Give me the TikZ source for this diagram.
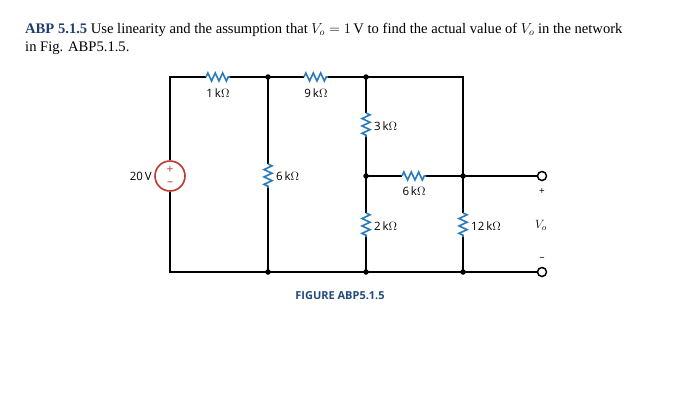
\documentclass[tikz,border=0pt]{standalone}
\usepackage{fontspec}
\setmainfont{Liberation Serif}
\newfontfamily\lab{Open Sans}
\usetikzlibrary{decorations.pathmorphing}
\definecolor{resb}{HTML}{2B7BB9}
\definecolor{srcr}{HTML}{C0392B}
\definecolor{ttl}{HTML}{1F3F6E}
\tikzset{
 wire/.style={line width=2.6pt,black},
 res/.style={resb,line width=1.6pt,decorate,decoration={zigzag,amplitude=4pt,segment length=7.4pt}},
 lbl/.style={font=\lab\fontsize{11.5}{13}\selectfont,inner sep=1pt},
 dot/.style={circle,fill=black,inner sep=0pt,minimum size=5.5pt},
 term/.style={circle,draw=black,fill=white,line width=1.5pt,inner sep=0pt,minimum size=9pt}
}
\begin{document}
\begin{tikzpicture}[x=1pt,y=-1pt]
\useasboundingbox (0,0) rectangle (700,405);
\node[anchor=west,inner sep=0pt,font=\fontsize{14.6}{16}\selectfont] (t1) at (25,30) {\textcolor{ttl}{\textbf{ABP 5.1.5}} Use linearity and the assumption that $V_o = 1$\,V to find the actual value of $V_o$ in the network};
\node[anchor=west,inner sep=0pt,font=\fontsize{14.6}{16}\selectfont] (t2) at (25,48) {in Fig. ABP5.1.5.};
\coordinate (TL) at (170,77); \coordinate (BL) at (170,272);
\coordinate (T1) at (268,77); \coordinate (B1) at (268,272);
\coordinate (T2) at (366,77); \coordinate (M2) at (366,176); \coordinate (B2) at (366,272);
\coordinate (T3) at (463,77); \coordinate (M3) at (463,176); \coordinate (B3) at (463,272);
\node[term] (op) at (542,176) {}; \node[term] (om) at (542,272) {};
\node[circle,draw=srcr,line width=1.6pt,minimum size=30pt,inner sep=0pt] (src) at (170,176) {};
\node[srcr,font=\lab\fontsize{12}{12}\selectfont,inner sep=0pt] (sp) at (170,169.5) {+};
\node[srcr,font=\lab\fontsize{12}{12}\selectfont,inner sep=0pt] (sm) at (170,184) {–};
\coordinate (r1a) at (206,77); \coordinate (r1b) at (230,77);
\coordinate (r9a) at (304,77); \coordinate (r9b) at (328,77);
\coordinate (r3a) at (366,113); \coordinate (r3b) at (366,137);
\coordinate (r6a) at (268,164); \coordinate (r6b) at (268,188);
\coordinate (r6ha) at (402,176); \coordinate (r6hb) at (426,176);
\coordinate (r2a) at (366,213); \coordinate (r2b) at (366,237);
\coordinate (r12a) at (463,213); \coordinate (r12b) at (463,237);
\draw[wire] (src.south) -- (BL) -- (B1) -- (B2) -- (B3) -- (om);
\draw[wire] (src.north) -- (TL) -- (r1a); \draw[wire] (r1b) -- (T1) -- (r9a);
\draw[wire] (r9b) -- (T2) -- (T3) -- (r12a);
\draw[wire] (r12b) -- (B3);
\draw[wire] (T1) -- (r6a); \draw[wire] (r6b) -- (B1);
\draw[wire] (T2) -- (r3a); \draw[wire] (r3b) -- (M2) -- (r2a); \draw[wire] (r2b) -- (B2);
\draw[wire] (M2) -- (r6ha); \draw[wire] (r6hb) -- (M3) -- (op);
\foreach \a/\b in {r1a/r1b,r9a/r9b,r3a/r3b,r6a/r6b,r6ha/r6hb,r2a/r2b,r12a/r12b} \draw[res] (\a) -- (\b);
\foreach \p in {T1,T2,M2,M3,B1,B2,B3} \node[dot] at (\p) {};
\node[lbl] (l1) at (218,93) {1\,k$\Omega$};
\node[lbl] (l9) at (316,93) {9\,k$\Omega$};
\node[lbl,anchor=west] (l3) at (373,126) {3\,k$\Omega$};
\node[lbl,anchor=west] (l6) at (275,176) {6\,k$\Omega$};
\node[lbl] (l6h) at (414,191) {6\,k$\Omega$};
\node[lbl,anchor=west] (l2) at (373,226) {2\,k$\Omega$};
\node[lbl,anchor=west] (l12) at (470,226) {12\,k$\Omega$};
\node[lbl,anchor=east] (l20) at (153,176) {20\,V};
\node[font=\lab\fontsize{10}{10}\selectfont] (pl) at (542,192) {+};
\node[font=\lab\fontsize{10}{10}\selectfont] (mi) at (542,259) {–};
\node[font=\fontsize{13}{13}\selectfont] (vo) at (541,225) {$V_o$};
\node[font=\lab\bfseries\fontsize{11}{12}\selectfont,text=ttl!80!resb] (cap) at (340,296) {FIGURE ABP5.1.5};
\end{tikzpicture}
\end{document}
